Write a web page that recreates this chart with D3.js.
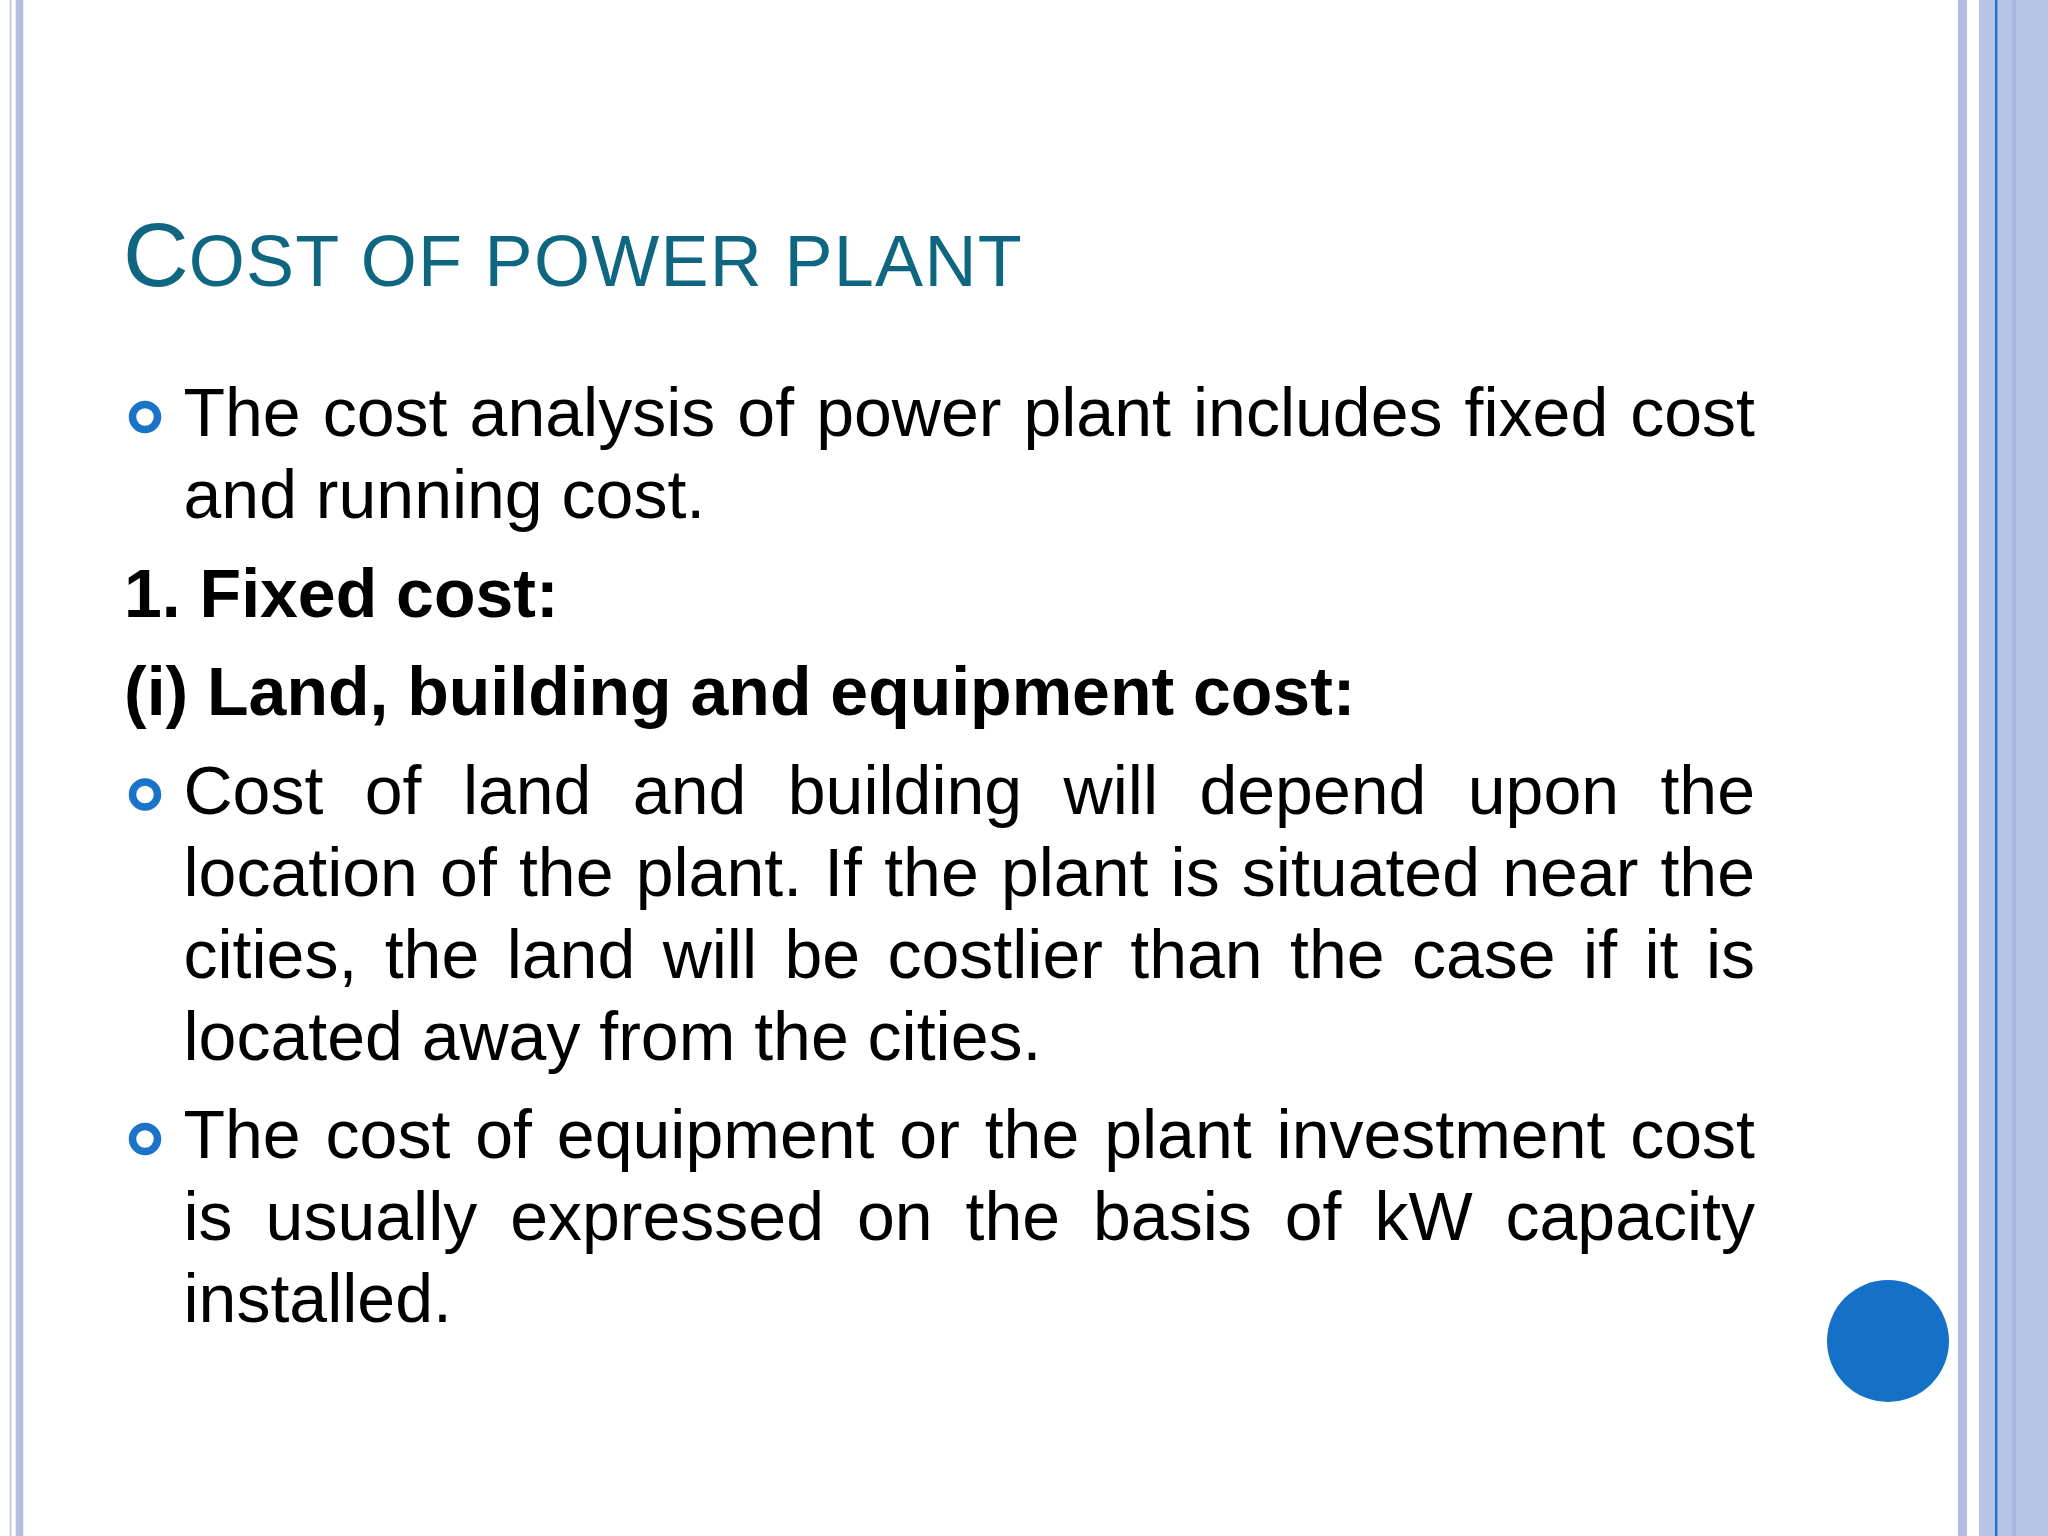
<!DOCTYPE html>
<html>
<head>
<meta charset="utf-8">
<script src="https://cdn.jsdelivr.net/npm/d3@7"></script>
<style>
  html, body { margin: 0; padding: 0; background: #ffffff; }
  svg { display: block; }
</style>
</head>
<body>
<svg id="slide" width="2048" height="1536"></svg>
<script>
// ---- content ----
const titleFirst = "C";
const titleRest = "OST OF POWER PLANT";
const paraKinds = ["bullet", "heading", "heading", "bullet", "bullet"];
const paraLines = [
  ["The cost analysis of power plant includes fixed cost", "and running cost."],
  ["1. Fixed cost:"],
  ["(i) Land, building and equipment cost:"],
  ["Cost of land and building will depend upon the",
   "location of the plant. If the plant is situated near the",
   "cities, the land will be costlier than the case if it is",
   "located away from the cities."],
  ["The cost of equipment or the plant investment cost",
   "is usually expressed on the basis of kW capacity",
   "installed."]
];
const borderLeft = [[9.5, 2.2, "#c6cde9"], [15.7, 7.6, "#b3bde2"]];
const borderRight = [[1958, 9, "#b3bde2"], [1979, 69, "#b8c4e5"], [1995, 2.4, "#1f6fca"], [2012, 4, "#a6b6de"]];

// ---- layout ----
const W = 2048, H = 1536;
const svg = d3.select("#slide");
const FONT = "'Liberation Sans', Arial, Helvetica, sans-serif";
const bodySize = 68;
const textX = 183.5, headX = 124, rightX = 1755;

// vertical placement: slot scale (line slots + paragraph gaps)
const lineStep = d3.scaleLinear().domain([0, 1]).range([436, 518]);
const gap = 16.5;

svg.append("rect").attr("width", W).attr("height", H).attr("fill", "#ffffff");

// borders
const bx = d3.scaleLinear().domain([0, W]).range([0, W]);
svg.selectAll("rect.bl").data(borderLeft.concat(borderRight)).join("rect")
  .attr("class", "bl")
  .attr("x", d => bx(d[0])).attr("y", 0)
  .attr("width", d => d[1]).attr("height", H)
  .attr("fill", d => d[2]);

// title
const title = svg.append("text")
  .attr("x", 123).attr("y", 286)
  .attr("font-family", FONT)
  .attr("fill", "#0e6681");
title.append("tspan").attr("font-size", 91).text(titleFirst);
const rest = title.append("tspan").attr("font-size", 72).text(titleRest);
{
  const w = title.node().getComputedTextLength();
  const target = 1023 - 123;
  const ls = (target - w) / (titleRest.length);
  rest.attr("letter-spacing", ls);
}

// body
let slot = 0;
paraLines.forEach((lines, pi) => {
  const kind = paraKinds[pi];
  lines.forEach((ln, li) => {
    const y = lineStep(slot) + pi * gap;
    const x = kind === "bullet" ? textX : headX;
    const t = svg.append("text")
      .attr("x", x).attr("y", y)
      .attr("font-family", FONT)
      .attr("font-size", bodySize)
      .attr("font-weight", kind === "heading" ? "bold" : "normal")
      .attr("fill", "#000000")
      .text(ln);
    if (kind === "bullet" && li < lines.length - 1) {
      const w = t.node().getComputedTextLength();
      const spaces = (ln.match(/ /g) || []).length;
      t.attr("word-spacing", (rightX - x - w) / spaces);
    }
    if (kind === "bullet" && li === 0) {
      svg.append("circle")
        .attr("cx", 145).attr("cy", y - 19)
        .attr("r", 12.5)
        .attr("fill", "none")
        .attr("stroke", "#1a72c9")
        .attr("stroke-width", 7.5);
    }
    slot++;
  });
});

// decorative circle
svg.append("circle").attr("cx", 1888).attr("cy", 1341).attr("r", 61).attr("fill", "#1570c8");
</script>
</body>
</html>
